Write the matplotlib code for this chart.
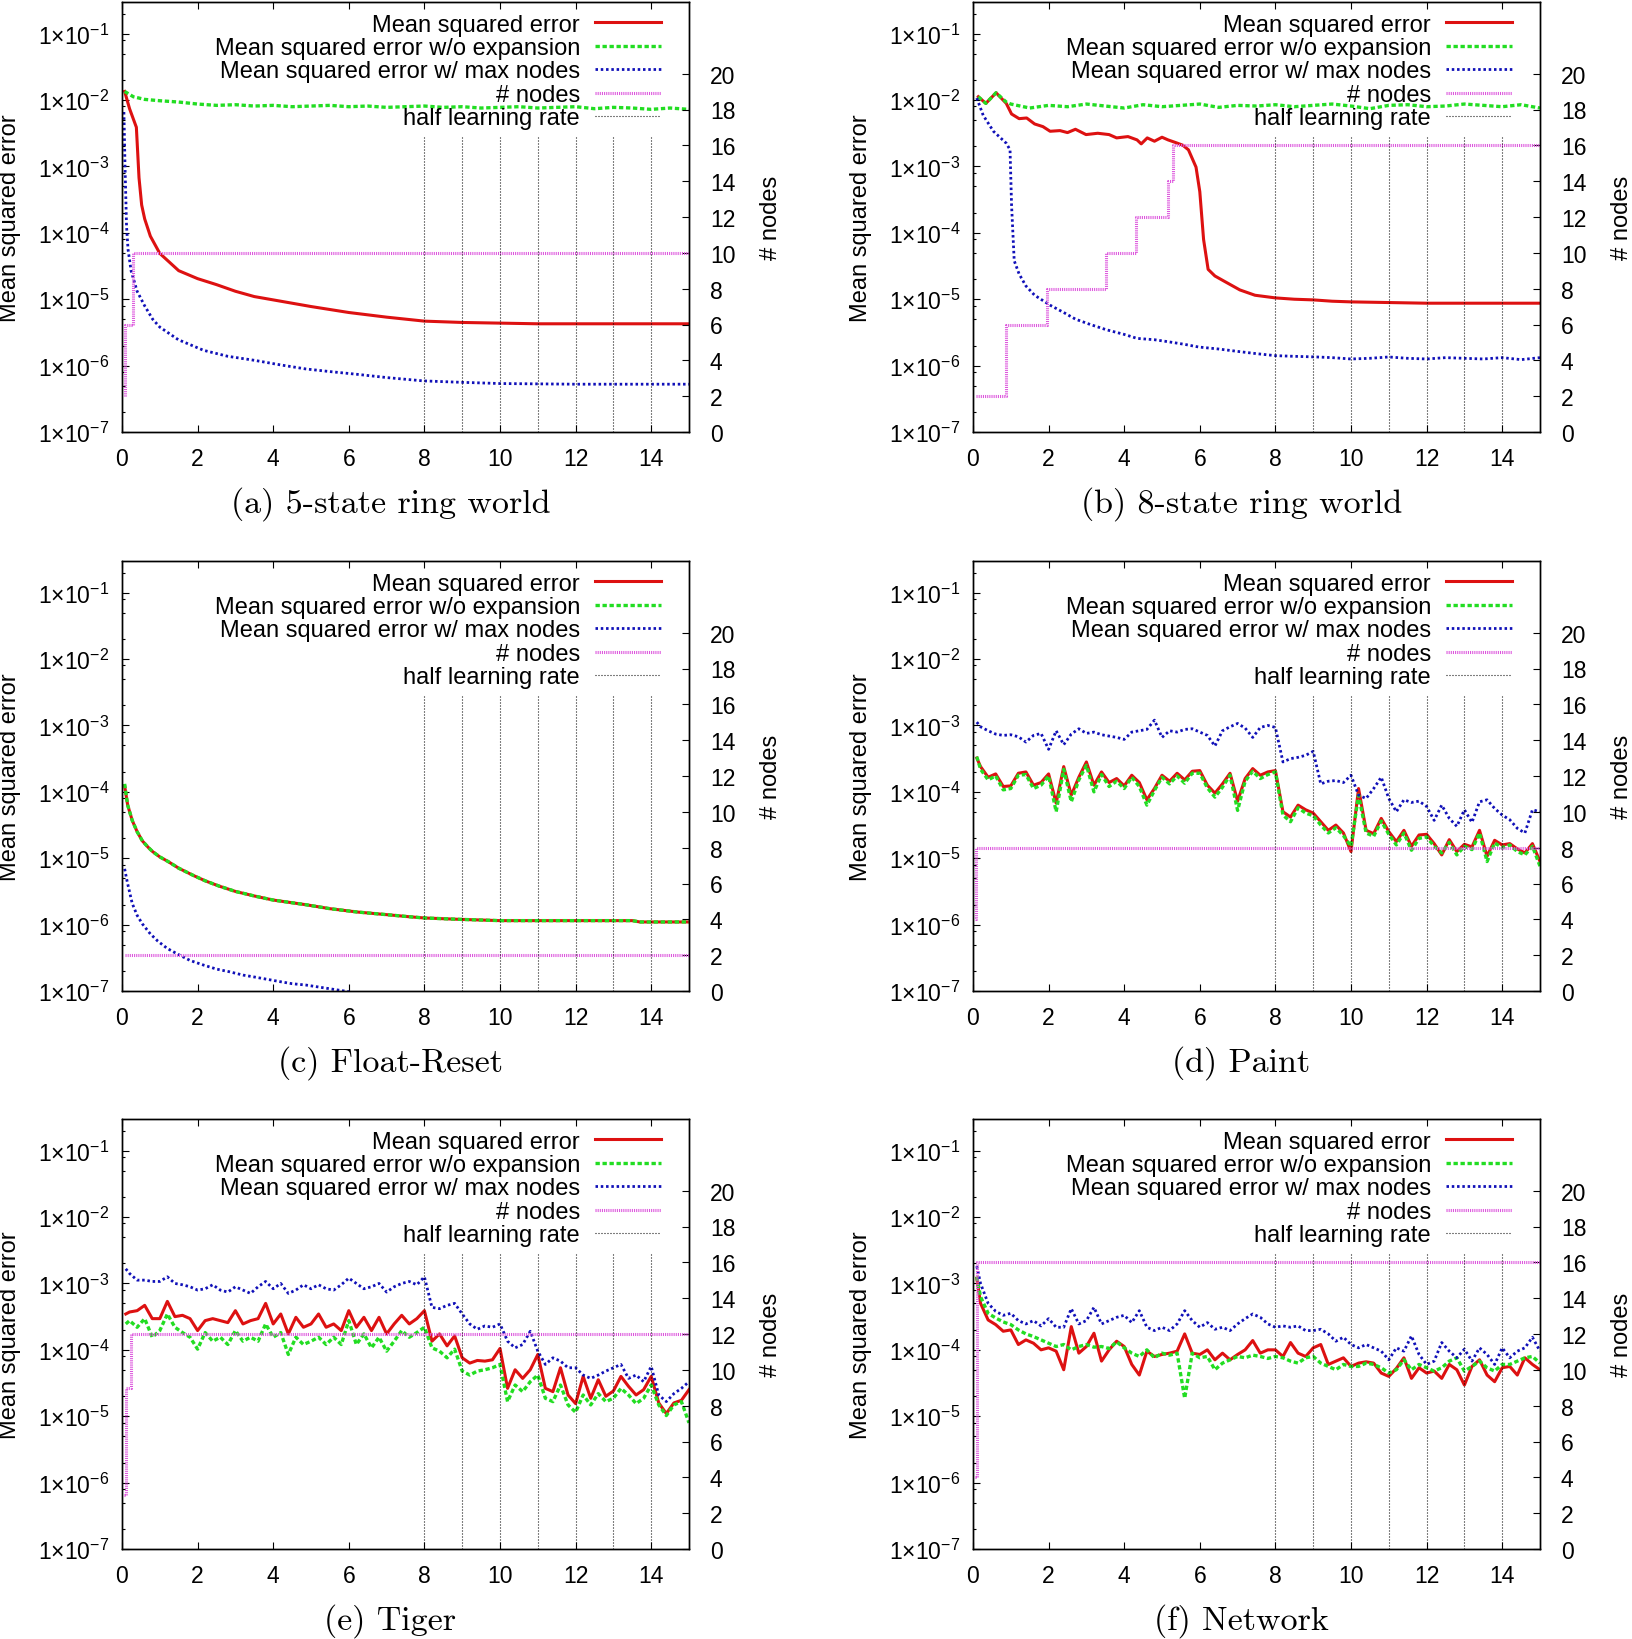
import numpy as np
import matplotlib.pyplot as plt
from matplotlib.ticker import FixedLocator, FixedFormatter, NullFormatter

plt.rcParams['font.family'] = ['Liberation Sans', 'DejaVu Sans']
plt.rcParams['mathtext.fontset'] = 'custom'
plt.rcParams['mathtext.rm'] = 'Liberation Sans'
plt.rcParams['mathtext.it'] = 'Liberation Sans:italic'
plt.rcParams['mathtext.bf'] = 'Liberation Sans:bold'
plt.rcParams['axes.linewidth'] = 1.0

# ---- data (MSE values stored as log10) ----
# (a) 5-state ring world
ring5_mse_x = [0.07, 0.2, 0.38, 0.45, 0.52, 0.6, 0.75, 1.0, 1.25, 1.5, 2.0, 2.5, 3.0, 3.5, 4.0, 5.0,
               6.0, 7.0, 8.0, 9.0, 10, 11, 12, 13, 14, 15]
ring5_mse = [-1.87, -2.13, -2.41, -3.17, -3.58, -3.79, -4.05, -4.31, -4.44, -4.57, -4.69, -4.78, -4.88,
             -4.96, -5.01, -5.11, -5.20, -5.27, -5.33, -5.35, -5.36, -5.37, -5.37, -5.37, -5.37, -5.37]
ring5_noexp_x = [0.07, 0.3, 0.6] + [1.0 + 0.5 * i for i in range(29)]
ring5_noexp = [-1.87, -1.95, -1.99, -2.01, -2.03, -2.06, -2.08, -2.07, -2.09, -2.08, -2.10, -2.09, -2.08,
               -2.10, -2.09, -2.11, -2.10, -2.09, -2.11, -2.10, -2.12, -2.11, -2.10, -2.12, -2.11, -2.10,
               -2.13, -2.11, -2.12, -2.14, -2.12, -2.14]
ring5_max_x = [0.05, 0.08, 0.12, 0.16, 0.24, 0.4, 0.6, 0.81, 1.0, 1.49, 2.16, 2.8, 3.5, 4.2, 4.86, 5.5,
               6.2, 7.0, 7.97, 8.9, 10, 12, 15]
ring5_max = [-2.18, -3.0, -3.9, -4.25, -4.57, -4.88, -5.1, -5.30, -5.42, -5.61, -5.77, -5.86, -5.92,
             -5.99, -6.05, -6.09, -6.13, -6.18, -6.23, -6.25, -6.27, -6.28, -6.28]
ring5_nodes_x = [0.07, 0.08, 0.28, 15]
ring5_nodes = [2, 6, 10, 10]

# (b) 8-state ring world
ring8_mse_x = [0.14, 0.34, 0.61, 0.88, 1.02, 1.22, 1.42, 1.63, 1.85, 2.04, 2.3, 2.5, 2.71, 2.99, 3.3,
               3.6, 3.8, 4.1, 4.34, 4.45, 4.61, 4.8, 5.0, 5.16, 5.36, 5.55, 5.7, 5.9, 6.0, 6.1, 6.22,
               6.4, 6.65, 7.06, 7.46, 8.0, 8.5, 9.0, 9.5, 10, 11, 12, 13, 14, 15]
ring8_mse = [-1.95, -2.05, -1.89, -2.05, -2.21, -2.28, -2.27, -2.36, -2.40, -2.47, -2.46, -2.49, -2.44,
             -2.52, -2.50, -2.52, -2.57, -2.55, -2.60, -2.66, -2.57, -2.62, -2.56, -2.60, -2.64, -2.68,
             -2.75, -3.01, -3.38, -4.1, -4.55, -4.65, -4.73, -4.86, -4.94, -4.98, -5.0, -5.01, -5.03,
             -5.04, -5.05, -5.06, -5.06, -5.06, -5.06]
ring8_noexp_x = [0.14, 0.34, 0.61, 0.88] + [1.0 + 0.5 * i for i in range(29)]
ring8_noexp = [-1.95, -2.05, -1.89, -2.03, -2.06, -2.12, -2.08, -2.10, -2.06, -2.09, -2.12, -2.07, -2.10,
               -2.08, -2.06, -2.11, -2.08, -2.09, -2.07, -2.10, -2.08, -2.06, -2.09, -2.13, -2.08, -2.07,
               -2.10, -2.09, -2.06, -2.08, -2.10, -2.07, -2.12]
ring8_max_x = [0.1, 0.27, 0.54, 0.88, 0.98, 1.02, 1.09, 1.22, 1.4, 1.63, 2.04, 2.4, 2.71, 3.1, 3.53, 4.0,
               4.34, 4.8, 5.16, 5.6, 5.97, 6.5, 7.06, 7.5, 8.0, 8.5, 9.1, 9.5, 10, 10.5, 11, 11.5, 12,
               12.5, 13, 13.5, 14, 14.5, 15]
ring8_max = [-1.97, -2.23, -2.47, -2.65, -2.75, -3.58, -4.42, -4.62, -4.80, -4.94, -5.09, -5.20, -5.30,
             -5.38, -5.46, -5.53, -5.59, -5.61, -5.64, -5.68, -5.72, -5.75, -5.79, -5.82, -5.85, -5.86,
             -5.87, -5.88, -5.90, -5.89, -5.87, -5.89, -5.90, -5.88, -5.89, -5.90, -5.88, -5.91, -5.88]
ring8_nodes_x = [0.07, 0.88, 1.97, 3.53, 4.3, 5.16, 5.29, 15]
ring8_nodes = [2, 6, 8, 10, 12, 14, 16, 16]

# (c) Float-Reset
float_mse_x = [0.07, 0.15, 0.27, 0.4, 0.54, 0.7, 0.81, 1.0, 1.22, 1.5, 1.89, 2.2, 2.57, 3.0, 3.51, 4.0,
               4.86, 5.5, 6.22, 7.0, 7.57, 8.0, 8.9, 10, 11, 12, 13, 13.5, 13.7, 15]
float_mse = [-3.91, -4.20, -4.43, -4.60, -4.74, -4.84, -4.90, -4.98, -5.05, -5.15, -5.26, -5.34, -5.42,
             -5.50, -5.57, -5.63, -5.70, -5.76, -5.81, -5.85, -5.88, -5.90, -5.92, -5.94, -5.94, -5.94,
             -5.94, -5.94, -5.96, -5.96]
float_noexp = [-3.88, -4.20, -4.43, -4.60, -4.74, -4.84, -4.90, -4.98, -5.05, -5.15, -5.26, -5.34, -5.42,
               -5.50, -5.57, -5.63, -5.70, -5.76, -5.81, -5.85, -5.88, -5.90, -5.92, -5.94, -5.94, -5.94,
               -5.94, -5.94, -5.96, -5.96]
float_max_x = [0.07, 0.14, 0.27, 0.4, 0.54, 0.75, 0.95, 1.2, 1.49, 1.8, 2.16, 2.5, 2.84, 3.2, 3.51, 3.9,
               4.19, 4.5, 4.86, 5.2, 5.54, 5.88, 6.2]
float_max = [-5.16, -5.36, -5.68, -5.86, -5.99, -6.14, -6.25, -6.36, -6.45, -6.54, -6.61, -6.67, -6.71,
             -6.76, -6.79, -6.83, -6.86, -6.89, -6.91, -6.94, -6.97, -7.00, -7.03]
float_nodes_x = [0.07, 15]
float_nodes = [2, 2]

# noisy problems: evaluated every 0.2 epochs (first at 0.1)
noisy_epochs = np.concatenate([[0.1], np.round(np.arange(1, 76) * 0.2, 1)])

# (d) Paint
paint_mse = [-3.49, -3.62, -3.78, -3.73, -3.92, -3.91, -3.72, -3.70, -3.90, -3.86,
             -3.73, -4.17, -3.62, -4.05, -3.78, -3.55, -3.90, -3.70, -3.86, -3.80,
             -3.91, -3.75, -3.86, -4.12, -3.95, -3.75, -3.84, -3.72, -3.82, -3.69,
             -3.68, -3.90, -4.02, -3.88, -3.72, -4.14, -3.80, -3.65, -3.75, -3.70,
             -3.68, -4.30, -4.38, -4.20, -4.27, -4.32, -4.45, -4.58, -4.50, -4.62,
             -4.90, -3.95, -4.58, -4.63, -4.40, -4.60, -4.75, -4.58, -4.82, -4.65,
             -4.64, -4.78, -4.95, -4.72, -4.90, -4.79, -4.83, -4.58, -4.97, -4.73,
             -4.80, -4.78, -4.86, -4.92, -4.78, -5.05]
paint_noexp = [-3.47, -3.66, -3.82, -3.76, -3.97, -3.95, -3.75, -3.74, -3.95, -3.90,
               -3.76, -4.30, -3.66, -4.15, -3.82, -3.60, -4.00, -3.74, -3.92, -3.84,
               -3.95, -3.78, -3.92, -4.20, -3.98, -3.78, -3.88, -3.76, -3.87, -3.72,
               -3.72, -3.94, -4.08, -3.93, -3.75, -4.28, -3.84, -3.69, -3.80, -3.74,
               -3.70, -4.35, -4.45, -4.24, -4.32, -4.36, -4.50, -4.62, -4.54, -4.66,
               -4.82, -4.05, -4.62, -4.67, -4.44, -4.64, -4.80, -4.62, -4.88, -4.70,
               -4.68, -4.82, -4.92, -4.76, -4.95, -4.82, -4.87, -4.62, -5.05, -4.77,
               -4.84, -4.80, -4.90, -4.95, -4.82, -5.12]
paint_max = [-2.95, -3.02, -3.08, -3.13, -3.15, -3.14, -3.17, -3.25, -3.15, -3.12,
             -3.36, -3.08, -3.29, -3.13, -3.05, -3.12, -3.10, -3.14, -3.16, -3.18,
             -3.21, -3.10, -3.08, -3.06, -2.92, -3.18, -3.08, -3.10, -3.06, -3.05,
             -3.10, -3.15, -3.31, -3.08, -3.02, -2.97, -3.04, -3.18, -3.03, -3.00,
             -3.03, -3.55, -3.50, -3.48, -3.45, -3.39, -3.88, -3.84, -3.83, -3.86,
             -3.75, -4.05, -4.10, -3.95, -3.78, -4.10, -4.30, -4.12, -4.16, -4.14,
             -4.22, -4.43, -4.20, -4.40, -4.52, -4.27, -4.46, -4.15, -4.12, -4.25,
             -4.35, -4.42, -4.55, -4.62, -4.27, -4.30]
paint_nodes_x = [0.05, 0.08, 15]
paint_nodes = [4, 8, 8]

# (e) Tiger
tiger_mse = [-3.46, -3.43, -3.41, -3.33, -3.53, -3.53, -3.27, -3.50, -3.48, -3.53,
             -3.71, -3.56, -3.53, -3.56, -3.59, -3.41, -3.61, -3.56, -3.53, -3.30,
             -3.61, -3.46, -3.76, -3.51, -3.66, -3.61, -3.46, -3.66, -3.61, -3.71,
             -3.41, -3.66, -3.51, -3.71, -3.51, -3.76, -3.61, -3.48, -3.61, -3.53,
             -3.41, -3.87, -3.76, -3.94, -3.79, -4.12, -4.20, -4.16, -4.17, -4.15,
             -3.98, -4.58, -4.30, -4.43, -4.30, -4.07, -4.58, -4.63, -4.27, -4.68,
             -4.81, -4.40, -4.73, -4.45, -4.70, -4.62, -4.40, -4.55, -4.68, -4.60,
             -4.40, -4.80, -4.96, -4.80, -4.76, -4.60]
tiger_noexp = [-3.61, -3.56, -3.66, -3.53, -3.81, -3.71, -3.46, -3.66, -3.74, -3.81,
               -3.99, -3.74, -3.87, -3.81, -3.92, -3.71, -3.87, -3.81, -3.87, -3.61,
               -3.81, -3.74, -4.07, -3.81, -3.92, -3.87, -3.81, -3.92, -3.81, -3.92,
               -3.56, -3.92, -3.76, -3.97, -3.81, -4.02, -3.87, -3.71, -3.81, -3.74,
               -3.66, -3.97, -4.02, -4.12, -3.99, -4.32, -4.38, -4.32, -4.30, -4.27,
               -4.22, -4.78, -4.53, -4.63, -4.48, -4.38, -4.73, -4.78, -4.53, -4.83,
               -4.94, -4.68, -4.83, -4.66, -4.78, -4.73, -4.58, -4.68, -4.81, -4.73,
               -4.53, -4.83, -4.99, -4.83, -4.78, -5.10]
tiger_max = [-2.78, -2.85, -2.95, -2.95, -2.97, -2.97, -2.90, -3.00, -3.02, -3.05,
             -3.10, -3.08, -3.02, -3.10, -3.13, -3.05, -3.10, -3.15, -3.05, -2.97,
             -3.08, -3.00, -3.15, -3.10, -3.02, -3.08, -3.02, -3.08, -3.10, -3.02,
             -2.92, -3.00, -3.08, -3.05, -3.00, -3.13, -3.05, -3.00, -2.97, -3.02,
             -2.90, -3.36, -3.38, -3.33, -3.30, -3.46, -3.61, -3.69, -3.64, -3.66,
             -3.61, -3.87, -3.97, -3.92, -3.72, -4.02, -4.22, -4.12, -4.17, -4.27,
             -4.27, -4.38, -4.43, -4.38, -4.32, -4.27, -4.22, -4.43, -4.38, -4.48,
             -4.25, -4.68, -4.78, -4.66, -4.58, -4.48]
tiger_nodes_x = [0.04, 0.1, 0.24, 15]
tiger_nodes = [3, 9, 12, 12]

# (f) Network
network_mse = [-2.92, -3.30, -3.55, -3.62, -3.72, -3.70, -3.92, -3.85, -3.90, -4.00,
               -3.97, -4.02, -4.30, -3.65, -4.05, -3.95, -3.75, -4.17, -4.00, -3.87,
               -3.95, -4.22, -4.38, -4.02, -4.10, -4.07, -4.05, -4.02, -3.76, -4.05,
               -4.07, -4.00, -4.15, -4.05, -4.15, -4.07, -4.00, -3.86, -4.05, -4.00,
               -4.00, -4.10, -3.89, -4.05, -4.10, -3.97, -3.92, -4.22, -4.17, -4.12,
               -4.25, -4.20, -4.18, -4.20, -4.35, -4.40, -4.28, -4.12, -4.43, -4.27,
               -4.35, -4.32, -4.43, -4.22, -4.30, -4.53, -4.25, -4.15, -4.38, -4.48,
               -4.27, -4.25, -4.38, -4.12, -4.22, -4.30]
network_noexp = [-2.90, -3.20, -3.45, -3.52, -3.58, -3.62, -3.70, -3.76, -3.80, -3.85,
                 -3.90, -3.95, -3.92, -4.00, -3.95, -3.92, -3.96, -3.95, -3.98, -3.88,
                 -3.97, -4.05, -4.10, -4.00, -4.12, -4.05, -4.08, -4.05, -4.73, -4.05,
                 -4.12, -4.10, -4.30, -4.20, -4.15, -4.10, -4.12, -4.08, -4.10, -4.13,
                 -4.10, -4.12, -4.17, -4.20, -4.12, -4.10, -4.20, -4.25, -4.30, -4.22,
                 -4.25, -4.25, -4.20, -4.22, -4.27, -4.35, -4.30, -4.15, -4.30, -4.22,
                 -4.27, -4.32, -4.27, -4.17, -4.12, -4.32, -4.25, -4.17, -4.27, -4.32,
                 -4.22, -4.22, -4.17, -4.12, -4.10, -4.20]
network_max = [-2.74, -3.00, -3.30, -3.42, -3.48, -3.45, -3.56, -3.61, -3.56, -3.64,
               -3.53, -3.66, -3.66, -3.38, -3.61, -3.56, -3.36, -3.61, -3.56, -3.51,
               -3.48, -3.59, -3.41, -3.66, -3.71, -3.66, -3.71, -3.61, -3.41, -3.56,
               -3.66, -3.59, -3.69, -3.66, -3.71, -3.61, -3.53, -3.46, -3.51, -3.61,
               -3.66, -3.64, -3.66, -3.64, -3.71, -3.71, -3.69, -3.76, -3.87, -3.81,
               -3.92, -3.97, -3.92, -3.97, -4.02, -4.15, -3.97, -4.02, -3.79, -4.07,
               -4.22, -4.17, -3.89, -4.02, -4.12, -3.99, -4.17, -3.97, -4.07, -4.22,
               -3.97, -4.12, -4.02, -3.97, -3.81, -4.02]
network_nodes_x = [0.04, 0.1, 15]
network_nodes = [4, 16, 16]

half_lr_epochs = [8, 9, 10, 11, 12, 13, 14]

titles = ['(a) 5-state ring world', '(b) 8-state ring world', '(c) Float-Reset',
          '(d) Paint', '(e) Tiger', '(f) Network']
legend_labels = ['Mean squared error', 'Mean squared error w/o expansion',
                 'Mean squared error w/ max nodes', '# nodes', 'half learning rate']

panels = [
    (ring5_mse_x, ring5_mse, ring5_noexp_x, ring5_noexp, ring5_max_x, ring5_max, ring5_nodes_x, ring5_nodes),
    (ring8_mse_x, ring8_mse, ring8_noexp_x, ring8_noexp, ring8_max_x, ring8_max, ring8_nodes_x, ring8_nodes),
    (float_mse_x, float_mse, float_mse_x, float_noexp, float_max_x, float_max, float_nodes_x, float_nodes),
    (noisy_epochs, paint_mse, noisy_epochs, paint_noexp, noisy_epochs, paint_max, paint_nodes_x, paint_nodes),
    (noisy_epochs, tiger_mse, noisy_epochs, tiger_noexp, noisy_epochs, tiger_max, tiger_nodes_x, tiger_nodes),
    (noisy_epochs, network_mse, noisy_epochs, network_noexp, noisy_epochs, network_max, network_nodes_x, network_nodes),
]

# ---- styles ----
styles = [
    dict(color='#dd1111', lw=2.2, ls='-'),
    dict(color='#22dd22', lw=2.4, ls=(0, (1.3, 0.8))),
    dict(color='#1010b8', lw=2.0, ls=(0, (0.9, 1.0))),
    dict(color='#dd55dd', lw=2.2, ls=(0, (0.35, 0.35))),
    dict(color='black', lw=0.8, ls=(0, (0.9, 1.8))),
]
half_lr_top = 16.6

FIG_W, FIG_H = 1633, 1640
AX_W, AX_H = 567, 430
col_left = [122, 973]
row_top = [3, 562, 1120]

fig = plt.figure(figsize=(FIG_W / 100, FIG_H / 100), dpi=100)

major = [10.0 ** k for k in range(-7, 0)]
major_labels = ['1×10$^{%d}$' % k for k in range(-7, 0)]
minor = [m * 10.0 ** k for k in range(-7, 0) for m in (2, 5, 8) if m * 10.0 ** k < 0.3]

for i, (title, data) in enumerate(zip(titles, panels)):
    r, c = divmod(i, 2)
    left, top = col_left[c], row_top[r]
    ax = fig.add_axes([left / FIG_W, (FIG_H - top - AX_H) / FIG_H, AX_W / FIG_W, AX_H / FIG_H])
    ax2 = ax.twinx()

    mx, my, nx, ny, bx, by, kx, ky = data
    ax.plot(mx, 10.0 ** np.array(my), **styles[0])
    ax.plot(nx, 10.0 ** np.array(ny), **styles[1])
    ax.plot(bx, 10.0 ** np.array(by), **styles[2])
    ax2.plot(kx, ky, drawstyle='steps-post', **styles[3])
    for e in half_lr_epochs:
        ax2.plot([e, e], [0, half_lr_top], **styles[4])

    ax.set_xlim(0, 15)
    ax.set_yscale('log')
    ax.set_ylim(1e-7, 0.3)
    ax2.set_ylim(0, 24)
    ax.set_xticks(range(0, 15, 2))
    ax.yaxis.set_major_locator(FixedLocator(major))
    ax.yaxis.set_major_formatter(FixedFormatter(major_labels))
    ax.yaxis.set_minor_locator(FixedLocator(minor))
    ax.yaxis.set_minor_formatter(NullFormatter())
    ax2.set_yticks(range(0, 21, 2))

    ax.tick_params(axis='x', direction='in', top=True, length=5, width=0.8, pad=11, labelsize=16.5)
    ax.tick_params(axis='y', which='major', direction='in', length=5, width=0.8, pad=9, labelsize=16.5)
    ax.tick_params(axis='y', which='minor', direction='in', length=2.5, width=0.8)
    ax2.tick_params(axis='y', direction='in', length=5, width=0.8, pad=15, labelsize=16.5)
    for a in (ax, ax2):
        for s in a.spines.values():
            s.set_linewidth(1.0)

    ax.text(-112 / AX_W, 0.5, 'Mean squared error', rotation=90, ha='center', va='center',
            transform=ax.transAxes, fontsize=17)
    ax2.text(1 + 82 / AX_W, 0.5, '# nodes', rotation=90, ha='center', va='center',
             transform=ax2.transAxes, fontsize=17)

    # gnuplot style key: text right aligned, sample to its right
    for j, (lab, st) in enumerate(zip(legend_labels, styles)):
        yf = 1 - (20.3 + 23.4 * j) / AX_H
        ax2.text(1 - 109 / AX_W, yf - 8.3 / AX_H, lab, ha='right', va='baseline',
                 transform=ax2.transAxes, fontsize=17)
        ax2.plot([1 - 94 / AX_W, 1 - 28 / AX_W], [yf, yf], transform=ax2.transAxes, **st)

    fig.text((left + AX_W / 2 - 15) / FIG_W, 1 - (top + AX_H + 71) / FIG_H, title,
             ha='center', va='center', fontfamily='cmr10', fontsize=24.5)

fig.savefig('out.png', dpi=100)
